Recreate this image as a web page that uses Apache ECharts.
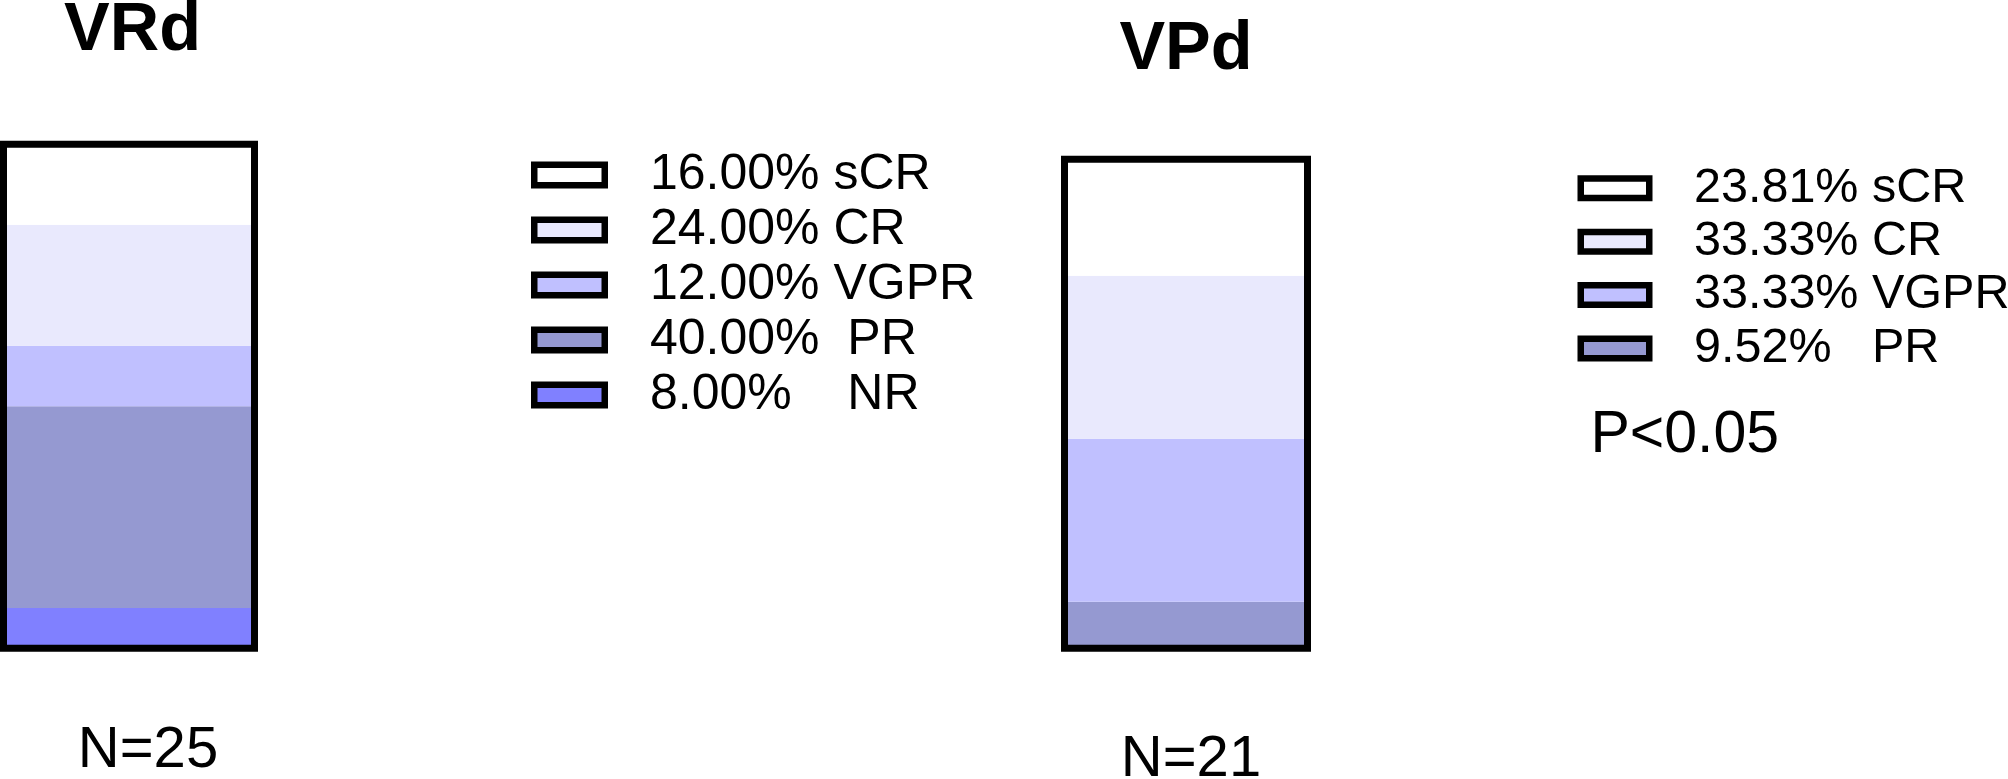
<!DOCTYPE html>
<html>
<head>
<meta charset="utf-8">
<script src="https://cdn.jsdelivr.net/npm/echarts@6/dist/echarts.min.js"></script>
<style>
html,body{margin:0;padding:0;background:#fff;}
#chart{width:2008px;height:779px;}
</style>
</head>
<body>
<div id="chart"></div>
<script>
// ---- data ----
const categories = ['sCR', 'CR', 'VGPR', 'PR', 'NR'];
const vrdValues = [16.00, 24.00, 12.00, 40.00, 8.00];
const vpdValues = [23.81, 33.33, 33.33, 9.52, null];
const groupTitles = ['VRd', 'VPd'];
const groupN = ['N=25', 'N=21'];
const vrdLegendLabels = ['16.00% sCR', '24.00% CR', '12.00% VGPR', '40.00%  PR', '8.00%    NR'];
const vpdLegendLabels = ['23.81% sCR', '33.33% CR', '33.33% VGPR', '9.52%   PR'];
const pValueText = 'P<0.05';

// ---- styles ----
const colors = {sCR: '#FFFFFF', CR: '#E9E9FD', VGPR: '#C0C0FF', PR: '#9599D1', NR: '#8080FF'};
const FONT = '"Liberation Sans", Arial, sans-serif';

const chart = echarts.init(document.getElementById('chart'), null, {renderer: 'canvas'});

// fill areas (grids 0,1) and outline areas (grids 2,3)
const grids = [
  {left: 3.5, top: 144.2, width: 251, height: 504},
  {left: 1064.5, top: 159.2, width: 243, height: 489},
  {left: 0, top: 140.7, width: 258, height: 511},
  {left: 1061, top: 155.7, width: 250, height: 496}
];
const groups = [vrdValues, vpdValues];

const series = [];
groups.forEach((vals, gi) => {
  for (let i = categories.length - 1; i >= 0; i--) {
    if (vals[i] == null) continue;
    series.push({
      type: 'bar', name: categories[i], stack: 'g' + gi,
      xAxisIndex: gi, yAxisIndex: gi,
      barWidth: '100%',
      data: [vals[i]],
      itemStyle: {color: colors[categories[i]]},
      silent: true, z: 2
    });
  }
  const total = vals.reduce((a, b) => a + (b || 0), 0);
  series.push({
    type: 'bar', name: 'outline' + gi,
    xAxisIndex: gi + 2, yAxisIndex: gi + 2,
    barWidth: '100%',
    data: [total],
    itemStyle: {color: 'rgba(0,0,0,0)', borderColor: '#000', borderWidth: 7},
    silent: true, z: 5
  });
});

function makeLegends(cfg) {
  const textBase = {fontSize: cfg.fontSize, fontFamily: FONT, lineHeight: 27};
  const back = {
    orient: 'vertical', padding: 0, selectedMode: false, icon: 'rect',
    left: cfg.left, top: cfg.top, itemGap: cfg.gap,
    itemWidth: cfg.ow, itemHeight: cfg.oh,
    itemStyle: {color: '#000', borderWidth: 0},
    textStyle: Object.assign({color: 'rgba(0,0,0,0)'}, textBase),
    data: cfg.data, formatter: cfg.formatter, z: 3
  };
  const front = {
    orient: 'vertical', padding: 0, selectedMode: false, icon: 'rect',
    left: cfg.left + cfg.bw, top: cfg.top, itemGap: cfg.gap,
    itemWidth: cfg.ow - 2 * cfg.bw, itemHeight: cfg.oh - 2 * cfg.bw,
    itemStyle: {borderWidth: 0},
    textStyle: Object.assign({color: '#000', padding: [0, 0, 0, cfg.textPad]}, textBase),
    data: cfg.data, formatter: cfg.formatter, z: 4
  };
  return [back, front];
}

const legends = [].concat(
  makeLegends({left: 531, top: 150, gap: 5, ow: 77, oh: 27, bw: 6.5, textPad: 43.5, fontSize: 50,
    data: categories.slice(), formatter: name => vrdLegendLabels[categories.indexOf(name)]}),
  makeLegends({left: 1577.5, top: 163.8, gap: 4.4, ow: 75, oh: 26, bw: 6.5, textPad: 43, fontSize: 48.5,
    data: categories.slice(0, 4), formatter: name => vpdLegendLabels[categories.indexOf(name)]})
);

function txt(x, y, text, font, align) {
  return {type: 'text', x: x, y: y, z: 10,
    style: {text: text, font: font, fill: '#000', align: align, verticalAlign: 'middle',
      textAlign: align, textVerticalAlign: 'middle'}};
}

const option = {
  backgroundColor: '#fff',
  animation: false,
  grid: grids.map(g => Object.assign({containLabel: false}, g)),
  xAxis: grids.map((g, i) => ({type: 'category', gridIndex: i, data: [groupTitles[i % 2]], show: false})),
  yAxis: grids.map((g, i) => ({type: 'value', gridIndex: i, min: 0, max: 'dataMax', show: false})),
  legend: legends,
  graphic: [
    txt(132.5, 31, groupTitles[0], 'bold 68.5px ' + FONT, 'center'),
    txt(1186, 50.5, groupTitles[1], 'bold 68.5px ' + FONT, 'center'),
    txt(148, 750.5, groupN[0], '58px ' + FONT, 'center'),
    txt(1191, 759.5, groupN[1], '58px ' + FONT, 'center'),
    txt(1590.5, 435.5, pValueText, '59px ' + FONT, 'left')
  ],
  series: series
};
chart.setOption(option);
</script>
</body>
</html>
